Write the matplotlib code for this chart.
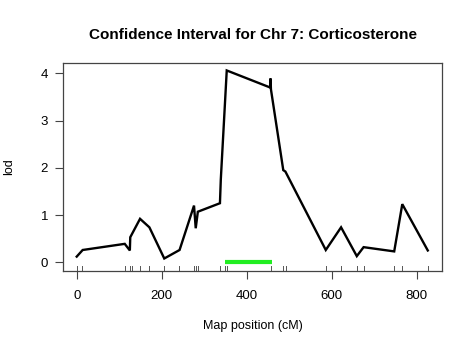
import matplotlib
matplotlib.use("Agg")
import matplotlib.pyplot as plt

# LOD profile along chromosome 7
pos = [0, 14, 113, 125, 126, 149, 171, 206, 242, 276, 280, 285, 337, 339, 353,
       455, 456, 457, 486, 491, 586, 622, 659, 675, 747, 766, 826]
lod = [0.12, 0.26, 0.39, 0.25, 0.53, 0.92, 0.74, 0.08, 0.26, 1.20, 0.72, 1.07, 1.25, 1.75, 4.06,
       3.70, 3.89, 3.66, 1.95, 1.92, 0.26, 0.74, 0.13, 0.32, 0.23, 1.23, 0.25]

# marker positions (rug)
markers = [0, 13, 114, 125, 129, 149, 171, 206, 241, 276, 281, 285, 338, 350, 353,
           456, 486, 492, 586, 622, 659, 676, 747, 766, 826]

# confidence interval
ci = [350, 459]

xticks = [0, 200, 400, 600, 800]
yticks = [0, 1, 2, 3, 4]

plt.rcParams['font.family'] = ['Liberation Sans', 'DejaVu Sans']

fig = plt.figure(figsize=(4.74, 3.49), dpi=100)
ax = fig.add_axes([0.1336, 0.2244, 0.7983, 0.5959])

ax.plot(pos, lod, color='black', lw=1.7, solid_joinstyle='miter')
ax.plot(ci, [0, 0], color='#22ee22', lw=3.0, solid_capstyle='butt')

ax.set_xlim(-31.5, 858.8)
ax.set_ylim(-0.178, 4.224)

# rug
for m in markers:
    ax.plot([m, m], [-0.178, -0.178 + 0.09], color='#555555', lw=0.7)

ax.set_xticks(xticks)
ax.set_yticks(yticks)
ax.set_xticklabels([str(v) for v in xticks])
ax.set_yticklabels([str(v) for v in yticks])
ax.tick_params(axis='both', direction='out', length=6, width=0.8, color='#444444',
               labelsize=9.5)
ax.tick_params(axis='x', pad=8)
ax.tick_params(axis='y', pad=5)
for s in ax.spines.values():
    s.set_color('#444444')
    s.set_linewidth(0.9)

ax.set_xlabel('Map position (cM)', fontsize=9, labelpad=13)
ax.set_ylabel('lod', fontsize=9, labelpad=18)
ax.set_title('Confidence Interval for Chr 7: Corticosterone', fontsize=11,
             fontweight='bold', pad=17)

fig.savefig('out.png', dpi=100)
